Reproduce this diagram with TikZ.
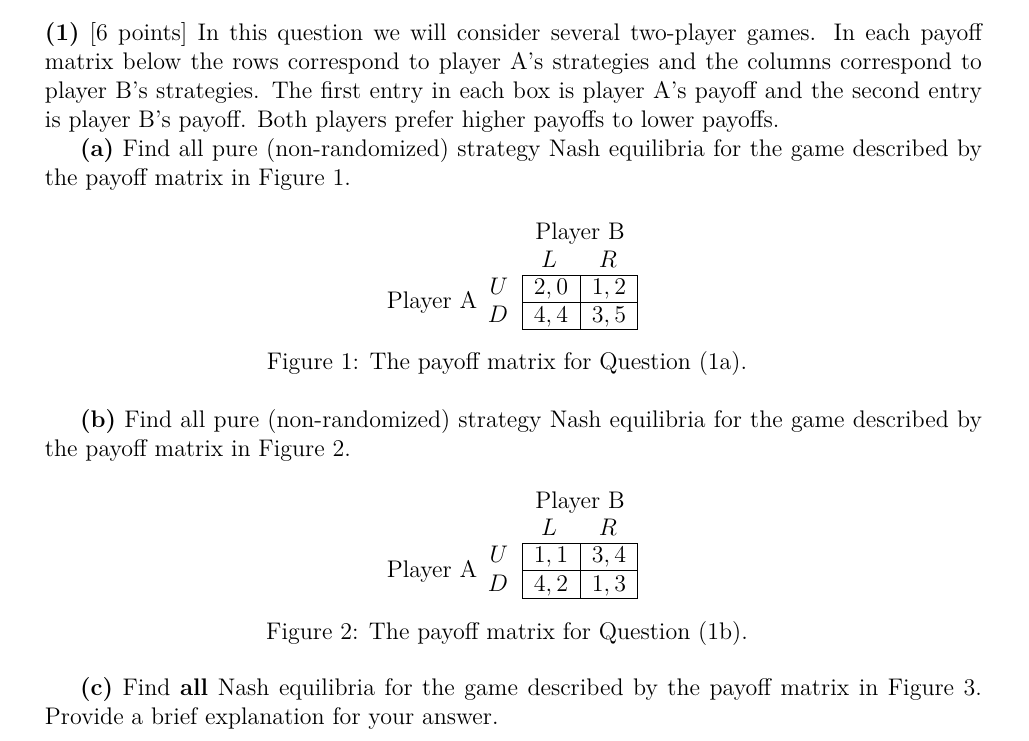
\documentclass[tikz,border=0pt]{standalone}
\begin{document}
\begin{tikzpicture}[x=0.5pt,y=-0.5pt,
  every node/.style={inner sep=0pt,outer sep=0pt,font=\fontsize{12}{14.5}\selectfont},
  ln/.style={anchor=base west}]
\useasboundingbox (0,0) rectangle (1029,740);
\newcommand{\full}[1]{\makebox[468.5pt][s]{#1}}
\newcommand{\ind}[1]{\makebox[451pt][s]{#1}}
\node[ln] (l1) at (45,40) {\full{\textbf{(1)} [6 points] In this question we will consider several two-player games. In each payoff}};
\node[ln] (l2) at (45,69) {\full{matrix below the rows correspond to player A's strategies and the columns correspond to}};
\node[ln] (l3) at (45,98) {\full{player B's strategies. The first entry in each box is player A's payoff and the second entry}};
\node[ln] (l4) at (45,127) {is player B's payoff. Both players prefer higher payoffs to lower payoffs.};
\node[ln] (l5) at (80,156) {\ind{\textbf{(a)} Find all pure (non-randomized) strategy Nash equilibria for the game described by}};
\node[ln] (l6) at (45,185) {the payoff matrix in Figure 1.};
% matrix 1
\node[anchor=base] (pb1) at (580,239) {Player B};
\node[anchor=base] (L1) at (549,267) {$L$};
\node[anchor=base] (R1) at (608,267) {$R$};
\draw (522,275) rectangle (637,329);
\draw (522,302) -- (637,302);
\draw (580,275) -- (580,329);
\node[anchor=base east] (U1) at (508,294) {$U$};
\node[anchor=base east] (D1) at (508,322) {$D$};
\node[anchor=base] (a11) at (551,294) {$2,0$};
\node[anchor=base] (a12) at (609,294) {$1,2$};
\node[anchor=base] (a21) at (551,322) {$4,4$};
\node[anchor=base] (a22) at (609,322) {$3,5$};
\node[anchor=base] (pa1) at (432,308) {Player A};
\node[anchor=base] (c1) at (507,369) {Figure 1: The payoff matrix for Question (1a).};
% part b
\node[ln] (l7) at (80,427) {\ind{\textbf{(b)} Find all pure (non-randomized) strategy Nash equilibria for the game described by}};
\node[ln] (l8) at (45,456) {the payoff matrix in Figure 2.};
\node[anchor=base] (pb2) at (580,508) {Player B};
\node[anchor=base] (L2) at (549,535) {$L$};
\node[anchor=base] (R2) at (608,535) {$R$};
\draw (522,543) rectangle (637,598);
\draw (522,570) -- (637,570);
\draw (580,543) -- (580,598);
\node[anchor=base east] (U2) at (508,562) {$U$};
\node[anchor=base east] (D2) at (508,591) {$D$};
\node[anchor=base] (b11) at (551,562) {$1,1$};
\node[anchor=base] (b12) at (609,562) {$3,4$};
\node[anchor=base] (b21) at (551,591) {$4,2$};
\node[anchor=base] (b22) at (609,591) {$1,3$};
\node[anchor=base] (pa2) at (432,577) {Player A};
\node[anchor=base] (c2) at (507,639) {Figure 2: The payoff matrix for Question (1b).};
\node[ln] (l9) at (80,695) {\ind{\textbf{(c)} Find \textbf{all} Nash equilibria for the game described by the payoff matrix in Figure 3.}};
\node[ln] (l10) at (45,724) {Provide a brief explanation for your answer.};
\end{tikzpicture}
\end{document}
